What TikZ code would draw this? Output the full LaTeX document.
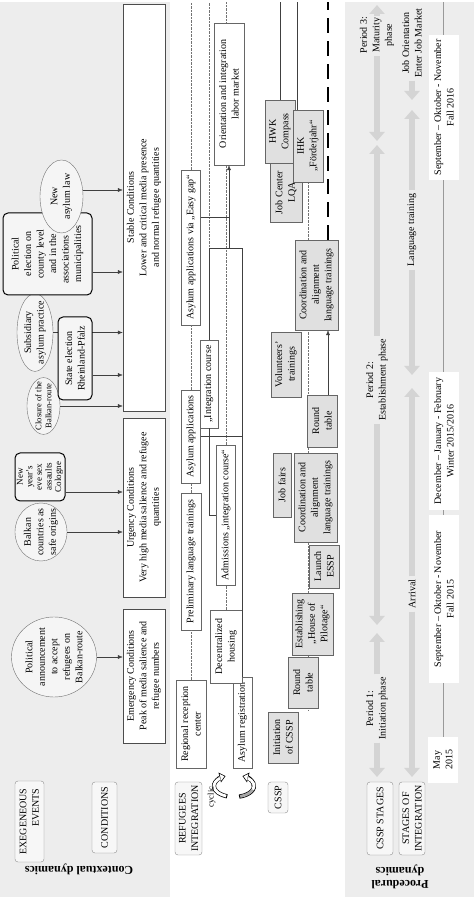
\documentclass[tikz,border=0pt]{standalone}
\usepackage{fontspec}
\setmainfont{Liberation Serif}
\usetikzlibrary{shapes.geometric,arrows.meta,positioning}

\begin{document}
\begin{tikzpicture}[x=1pt,y=1pt,
  font=\fontsize{10}{12.5}\selectfont,
  every node/.style={align=center,inner sep=0pt},
  evt/.style={ellipse,draw=black!55,fill=black!4,inner xsep=-4pt,inner ysep=0pt},
  polbox/.style={draw=black,line width=1pt,rounded corners=5pt,fill=black!4},
  condbox/.style={draw=black!70,fill=white},
  tag/.style={draw=black!45,rounded corners=3pt,fill=black!3},
  ribox/.style={draw=black!60,fill=white},
  csbox/.style={draw=black!60,fill=black!12},
  datebox/.style={fill=white,minimum height=30pt},
  period/.style={line width=5.5pt,black!17,-{Triangle[length=9pt,width=15pt]}},
  track/.style={densely dotted,black!55},
  link/.style={black!75},
  >={Latex[length=5pt,width=4pt]}]

\useasboundingbox (0,0) rectangle (474,900);

\begin{scope}[rotate=90,transform shape]
\coordinate (endx) at (898,0);
\fill[black!7] (3,-170) rectangle (898,0);
\fill[black!7] (3,-474) rectangle (898,-345);

% contextual dynamics
\node[font=\bfseries\fontsize{12}{14}\selectfont,rotate=90] (ctx) at (31,-79) {Contextual dynamics};
\node[tag,minimum width=81pt,minimum height=29pt,align=right] (exev) at (78.5,-29.5) {EXEGENEOUS\\EVENTS};
\node[tag,minimum width=71pt,minimum height=25pt] (cond) at (82.5,-104.5) {CONDITIONS};

\node[condbox,minimum width=134pt,minimum height=42pt] (emerg) at (224,-144) {Emergency Conditions\\Peak of media salience and\\refugee numbers};
\node[condbox,minimum width=179pt,minimum height=42pt] (urg) at (392.5,-144) {Urgency Conditions\\Very high media salience and refugee\\quantities};
\node[condbox,minimum width=407pt,minimum height=42pt] (stable) at (692.5,-144) {Stable Conditions\\Lower and critical media presence\\and normal refugee quantities};

\node[evt,minimum width=80pt,minimum height=85pt] (polann) at (243,-54) {Political\\announcement\\to accept\\refugees on\\Balkan-route};
\node[evt,minimum width=58pt,minimum height=52pt] (balkan) at (368,-41) {Balkan\\countries as\\safe origins};
\node[polbox,minimum width=48pt,minimum height=50pt,font=\fontsize{9}{9.6}\selectfont] (newyear) at (423,-40) {New\\year’s\\eve sex\\assaults\\Cologne};
\node[evt,minimum width=52pt,minimum height=33pt,font=\fontsize{8.5}{10}\selectfont] (closure) at (494,-43.5) {Closure of the\\Balkan-route};
\node[evt,minimum width=75pt,minimum height=36pt] (subsid) at (567.5,-35) {Subsidiary\\asylum practice};
\draw[link,->] (subsid.south) -- (subsid.south |- stable.north);
\node[polbox,minimum width=83pt,minimum height=34pt] (state) at (541.5,-75) {State election\\Rheinland-Pfalz};
\node[polbox,minimum width=82pt,minimum height=89pt] (polelec) at (646,-47.5) {Political\\election on\\county level\\and in the\\associations of\\municipalities};
\node[evt,minimum width=73pt,minimum height=43pt] (newlaw) at (703.5,-61.5) {New\\asylum law};

\draw[link,->] (polann.south) -- (polann.south |- emerg.north);
\draw[link,->] (balkan.south) -- (balkan.south |- urg.north);
\draw[link,->] ([xshift=-15pt]newyear.south) -- ([xshift=-15pt]newyear.south |- urg.north);
\draw[link,->] (closure.south) -- (closure.south |- stable.north);
\draw[link,->] ([xshift=-16.5pt]state.south) -- ([xshift=-16.5pt]state.south |- stable.north);
\draw[link,->] ([xshift=-18pt]polelec.south) -- ([xshift=-18pt]polelec.south |- stable.north);
\draw[link,->] ([xshift=6.5pt]newlaw.south) -- ([xshift=6.5pt]newlaw.south |- stable.north);

% refugees integration
\node[tag,minimum width=73pt,minimum height=27pt] (ri) at (81.5,-188.5) {REFUGEES\\INTEGRATION};
\node[tag,minimum width=31pt,minimum height=20pt] (cssp) at (102.5,-278) {CSSP};

\node[ribox,minimum width=88pt,minimum height=30pt] (regrec) at (176,-191) {Regional reception\\center};
\node[ribox,minimum width=91pt,minimum height=19pt] (asylreg) at (177.5,-242.5) {Asylum registration};
\node[ribox,minimum width=73pt,minimum height=32pt] (decent) at (253.5,-226) {Decentralized\\housing};
\node[ribox,minimum width=137pt,minimum height=20pt] (prelim) at (338.5,-191) {Preliminary language trainings};
\node[ribox,minimum width=140pt,minimum height=19pt] (admis) at (385,-226) {Admissions „integration course“};
\node[ribox,minimum width=93pt,minimum height=19pt] (asylapp) at (463.5,-191) {Asylum applications};
\node[ribox,minimum width=88pt,minimum height=18pt] (intc) at (516,-209) {„Integration course};
\node[ribox,minimum width=155pt,minimum height=19pt] (easygap) at (652.5,-191) {Asylum applications via „Easy gap“};

\draw[track] (regrec.east) -- (prelim.west) (prelim.east) -- (asylapp.west)
  (asylapp.east) -- (easygap.west) (easygap.east) -- (easygap.east -| endx);
\draw[track] (decent.east) -- (admis.west) (admis.east) -- (admis.east -| endx);
\coordinate (brk) at (652,-209);
\coordinate (brkb) at (652,-242.5);
\draw[track] (brk) -- (brk -| endx);
\node[ribox,minimum width=142pt,minimum height=30pt] (orient) at (806,-229) {Orientation and integration\\labor market};
\draw[link] (intc.east) -- (brk) -- (brkb) -- (asylreg.east);
\draw[link] (asylapp.south) -- (asylapp.south |- brkb);
\draw[link] (intc.west) -| (admis.north);
\draw[link,->] (brk |- orient.west) -- (orient.west);
\draw[link] ([xshift=30.5pt]easygap.south) -- ([xshift=30.5pt]easygap.south |- orient.west);

% cssp
\coordinate (ctrk) at (190,-308);
\coordinate (ctrke) at (718,-308);
\draw[track] (ctrk) -- (ctrke);
\node[csbox,minimum width=51pt,minimum height=30pt] (init) at (162.5,-283) {Initiation\\of CSSP};
\node[csbox,minimum width=51pt,minimum height=30pt] (round1) at (217.5,-303) {Round\\table};
\node[csbox,minimum width=62pt,minimum height=41pt] (estab) at (276,-312.5) {Establishing\\„House of\\Pilotage“};
\node[csbox,minimum width=43pt,minimum height=30pt] (launch) at (333.5,-324) {Launch\\ESSP};
\node[csbox,minimum width=89pt,minimum height=43pt] (coord1) at (402.5,-315.5) {Coordination and\\alignment\\language trainings};
\node[csbox,minimum width=64pt,minimum height=18pt] (jobfairs) at (415,-282) {Job fairs};
\node[csbox,minimum width=52pt,minimum height=30pt] (round2) at (479,-322) {Round\\table};
\node[csbox,minimum width=65pt,minimum height=30pt] (volunt) at (535.5,-286) {Volunteers’\\trainings};
\node[csbox,minimum width=90pt,minimum height=43pt] (coord2) at (615,-316.5) {Coordination and\\alignment\\language trainings};
\node[csbox,minimum width=59pt,minimum height=32pt] (jobc) at (707.5,-286) {Job Center\\LQA};
\node[csbox,minimum width=63pt,minimum height=30pt] (hwk) at (768.5,-280) {HWK\\Compass};
\node[csbox,minimum width=72pt,minimum height=30pt] (ihk) at (754,-308) {IHK\\„Förderjahr“};

\draw[link] (hwk.east) -- (hwk.east -| endx);
\draw[link] ([yshift=11pt]ihk.east) -- ([yshift=11pt]ihk.east -| endx);
\draw[link,->] ([yshift=-6pt]round2.east) -- ([yshift=-6pt]round2.east -| coord2.west);
\draw[line width=2.5pt,dash pattern=on 15pt off 8pt] ([yshift=-11.5pt]coord2.east) -- ([yshift=-11.5pt]coord2.east -| endx);

% procedural dynamics
\node[font=\bfseries\fontsize{12}{13}\selectfont,rotate=90] (proc) at (23,-400) {Procedural\\dynamics};
\node[tag,minimum width=73pt,minimum height=26pt] (cssps) at (81.5,-380) {CSSP STAGES};
\node[tag,minimum width=73pt,minimum height=26pt] (soi) at (81.5,-412) {STAGES OF\\INTEGRATION};

\coordinate (t1a) at (123,-377); \coordinate (t1b) at (267,-377);
\coordinate (t2a) at (275,-377); \coordinate (t2b) at (755,-377);
\coordinate (t3a) at (759,-377); \coordinate (t3b) at (895,-377);
\coordinate (i1a) at (123,-412); \coordinate (i1b) at (512,-412);
\coordinate (i2a) at (525,-412); \coordinate (i2b) at (790,-412);
\coordinate (i3a) at (800,-412);

\node (p1) at (191.5,-377) {Period 1:\\Initiation phase};
\node (p2) at (520,-377) {Period 2:\\Establishment phase};
\node (p3) at (865,-377) {Period 3:\\Maturity\\phase};
\draw[period] ([xshift=-3pt]p1.west) -- (t1a);
\draw[period] ([xshift=3pt]p1.east) -- (t1b);
\draw[period] ([xshift=-3pt]p2.west) -- (t2a);
\draw[period] ([xshift=3pt]p2.east) -- (t2b);
\draw[period] ([xshift=-3pt]p3.west) -- (t3a);
\draw[period] ([xshift=1pt]p3.east) -- (t3b);

\node (arr) at (306,-412) {Arrival};
\node (lang) at (670,-412) {Language training};
\node (job) at (857,-412) {Job Orientation\\Enter Job Market};
\draw[period] ([xshift=-3pt]arr.west) -- (i1a);
\draw[period] ([xshift=3pt]arr.east) -- (i1b);
\draw[period] ([xshift=-3pt]lang.west) -- (i2a);
\draw[period] ([xshift=3pt]lang.east) -- (i2b);
\draw[period] ([xshift=-3pt]job.west) -- (i3a);

\node[datebox,minimum width=46pt] (may) at (140,-443) {May\\2015};
\draw[black!40] (may.east) -- (may.east -| endx);
\foreach \nm/\x/\w/\txt in {fall15/301/168/{September – Oktober - November\\Fall 2015},
    wint/459/138/{December – January - February\\Winter 2015/2016},
    fall16/792.5/145/{September – Oktober - November\\Fall 2016}}
  \node[datebox,minimum width=\w pt] (\nm) at (\x,-444) {\txt};
\end{scope}

% cyclic icon
\begin{scope}[shift={(234,114)}]
\draw[line width=4.2pt,-{Triangle[fill=white,line width=.6pt,length=6pt,width=10pt]}] (250:20 and 11) arc[start angle=250,end angle=115,x radius=20,y radius=11];
\draw[line width=2.8pt,white] (247:20 and 11) arc[start angle=247,end angle=134,x radius=20,y radius=11];
\draw[line width=4.2pt,-{Triangle[fill=white,line width=.6pt,length=6pt,width=10pt]}] (285:20 and 11) arc[start angle=285,end angle=425,x radius=20,y radius=11];
\draw[line width=2.8pt,black!35] (288:20 and 11) arc[start angle=288,end angle=340,x radius=20,y radius=11];
\draw[line width=2.8pt,white] (340:20 and 11) arc[start angle=340,end angle=406,x radius=20,y radius=11];
\end{scope}
\node[rotate=90,font=\fontsize{8.5}{10}\selectfont] (cyc) at (211.5,103) {cyclic};
\end{tikzpicture}
\end{document}
